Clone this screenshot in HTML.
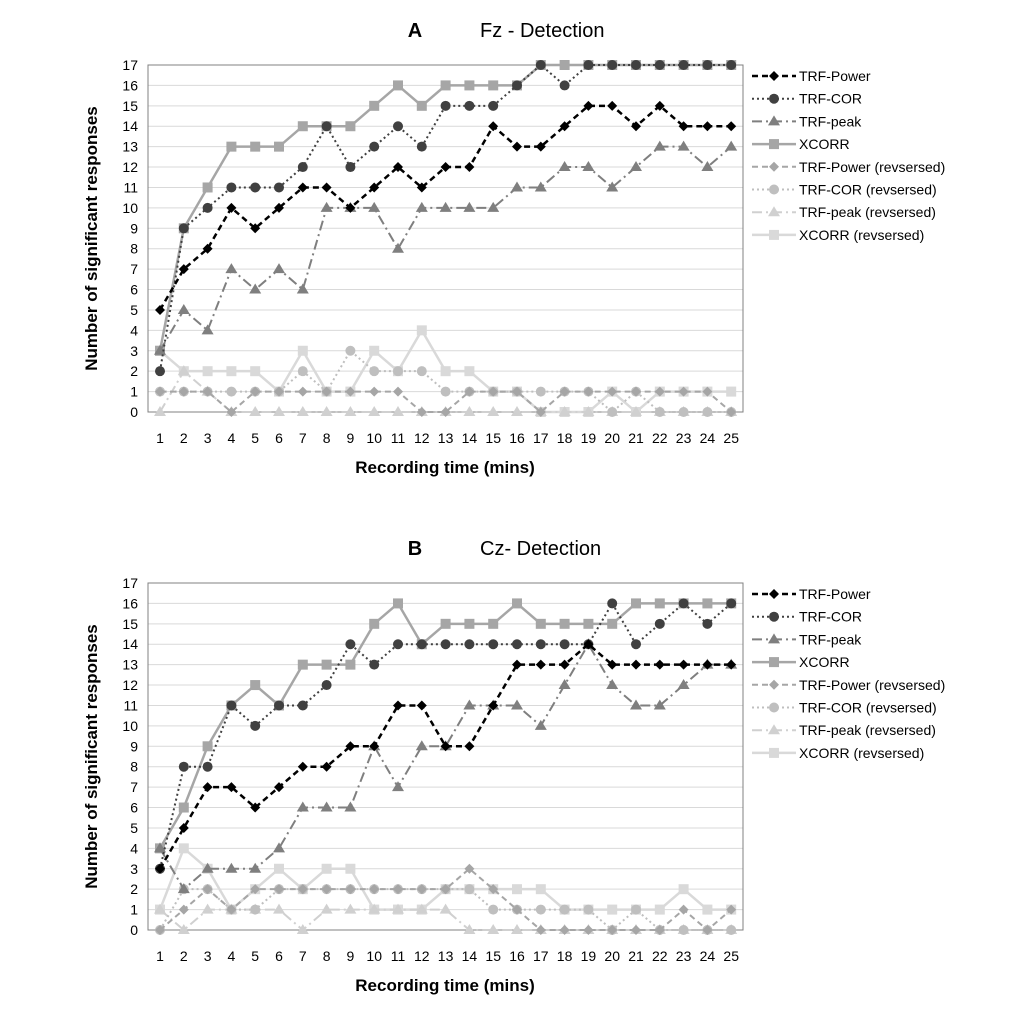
<!DOCTYPE html><html><head><style>body{margin:0;background:#fff}svg{font-family:"Liberation Sans",sans-serif}</style></head><body>
<svg id="s" width="1024" height="1016" xmlns="http://www.w3.org/2000/svg"></svg>
<script>
const S=document.getElementById('s');let h='';
const ser=[
{n:'TRF-Power',c:'#000',d:'6,4',m:'d',w:2.5},
{n:'TRF-COR',c:'#404040',d:'2,3',m:'c',w:2},
{n:'TRF-peak',c:'#7f7f7f',d:'10,4,2,4',m:'t',w:2},
{n:'XCORR',c:'#a6a6a6',d:'',m:'s',w:2.5},
{n:'TRF-Power (revsersed)',c:'#a6a6a6',d:'6,4',m:'d',w:2},
{n:'TRF-COR (revsersed)',c:'#bfbfbf',d:'2,3',m:'c',w:2},
{n:'TRF-peak (revsersed)',c:'#d0d0d0',d:'10,4,2,4',m:'t',w:2},
{n:'XCORR (revsersed)',c:'#d9d9d9',d:'',m:'s',w:2.5}];
const A=[[5,7,8,10,9,10,11,11,10,11,12,11,12,12,14,13,13,14,15,15,14,15,14,14,14],
[2,9,10,11,11,11,12,14,12,13,14,13,15,15,15,16,17,16,17,17,17,17,17,17,17],
[3,5,4,7,6,7,6,10,10,10,8,10,10,10,10,11,11,12,12,11,12,13,13,12,13],
[3,9,11,13,13,13,14,14,14,15,16,15,16,16,16,16,17,17,17,17,17,17,17,17,17],
[1,1,1,0,1,1,1,1,1,1,1,0,0,1,1,1,0,1,1,1,1,1,1,1,0],
[1,1,1,1,1,1,2,1,3,2,2,2,1,1,1,1,1,1,1,0,1,0,0,0,0],
[0,2,1,0,0,0,0,0,0,0,0,0,0,0,0,0,0,0,0,0,0,0,0,0,0],
[3,2,2,2,2,1,3,1,1,3,2,4,2,2,1,1,0,0,0,1,0,1,1,1,1]];
const B=[[3,5,7,7,6,7,8,8,9,9,11,11,9,9,11,13,13,13,14,13,13,13,13,13,13],
[3,8,8,11,10,11,11,12,14,13,14,14,14,14,14,14,14,14,14,16,14,15,16,15,16],
[4,2,3,3,3,4,6,6,6,9,7,9,9,11,11,11,10,12,14,12,11,11,12,13,13],
[4,6,9,11,12,11,13,13,13,15,16,14,15,15,15,16,15,15,15,15,16,16,16,16,16],
[0,1,2,1,2,2,2,2,2,2,2,2,2,3,2,1,0,0,0,0,0,0,1,0,1],
[0,2,2,1,1,2,2,2,2,2,2,2,2,2,1,1,1,1,1,0,1,0,0,0,0],
[1,0,1,1,1,1,0,1,1,1,1,1,1,0,0,0,0,0,0,0,0,0,0,0,0],
[1,4,3,1,2,3,2,3,3,1,1,1,2,2,2,2,2,1,1,1,1,1,2,1,1]];
function mk(m,x,y,c){if(m=='d')return `<polygon points="${x},${y-5} ${x+5},${y} ${x},${y+5} ${x-5},${y}" fill="${c}"/>`;
if(m=='c')return `<circle cx="${x}" cy="${y}" r="5" fill="${c}"/>`;
if(m=='t')return `<polygon points="${x},${y-6} ${x+6},${y+4} ${x-6},${y+4}" fill="${c}"/>`;
return `<rect x="${x-5}" y="${y-5}" width="10" height="10" fill="${c}"/>`;}
function chart(top,bot,data,L,T){
 const x0=148,x1=743,u=(bot-top)/17,X=i=>160+i*23.8,Y=v=>bot-v*u;
 for(let v=0;v<=17;v++){h+=`<line x1="${x0}" x2="${x1}" y1="${Y(v)}" y2="${Y(v)}" stroke="#d9d9d9"/>`;
 h+=`<text x="138" y="${Y(v)+5}" font-size="14" text-anchor="end">${v}</text>`;}
 for(let i=0;i<25;i++)h+=`<text x="${X(i)}" y="${bot+31}" font-size="14" text-anchor="middle">${i+1}</text>`;
 h+=`<rect x="${x0}" y="${top}" width="${x1-x0}" height="${bot-top}" fill="none" stroke="#808080"/>`;
 for(let k=7;k>=0;k--){const s=ser[k],d=data[k];
  h+=`<polyline fill="none" stroke="${s.c}" stroke-width="${s.w}" stroke-dasharray="${s.d}" points="${d.map((v,i)=>X(i)+','+Y(v)).join(' ')}"/>`;
  d.forEach((v,i)=>h+=mk(s.m,X(i),Y(v),s.c));}
 ser.forEach((s,k)=>{const y=top+11+k*22.7;
  h+=`<line x1="752" x2="796" y1="${y}" y2="${y}" stroke="${s.c}" stroke-width="${s.w}" stroke-dasharray="${s.d}"/>`+mk(s.m,774,y,s.c);
  h+=`<text x="799" y="${y+5}" font-size="14">${s.n}</text>`;});
 h+=`<text x="445" y="${bot+61}" font-size="17" font-weight="bold" text-anchor="middle">Recording time (mins)</text>`;
 h+=`<text transform="translate(97,${(top+bot)/2}) rotate(-90)" font-size="17" font-weight="bold" text-anchor="middle">Number of significant  responses</text>`;
 h+=`<text x="415" y="${top-28}" font-size="20" font-weight="bold" text-anchor="middle">${L}</text><text x="480" y="${top-28}" font-size="20">${T}</text>`;
}
chart(65,412,A,'A','Fz - Detection');chart(583,930,B,'B','Cz- Detection');
S.innerHTML=h;
</script></body></html>
